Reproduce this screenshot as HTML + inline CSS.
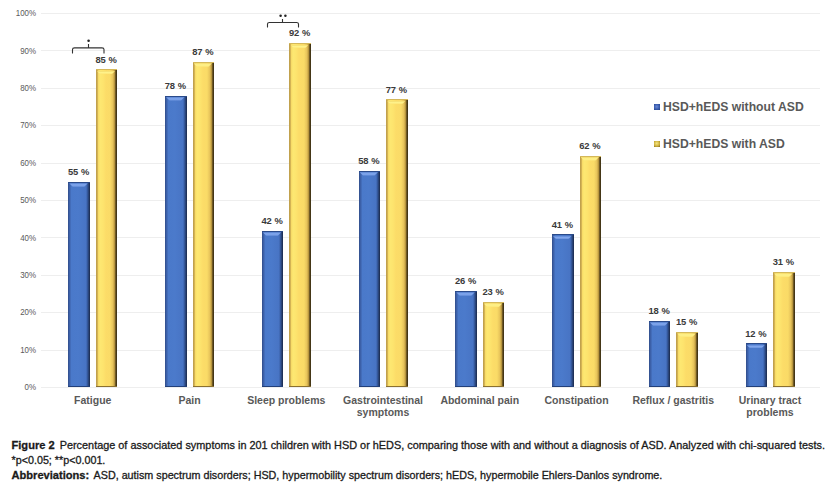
<!DOCTYPE html>
<html><head><meta charset="utf-8"><style>
*{margin:0;padding:0;box-sizing:border-box}
html,body{width:839px;height:492px;overflow:hidden;background:#fff}
body{position:relative;font-family:"Liberation Sans",sans-serif}
.gl{position:absolute;left:41px;width:779px;height:1px;background:#eeeeee}
.yl{position:absolute;left:0;width:36px;text-align:right;font-size:8.8px;line-height:10px;color:#5a5a5a;transform:scaleX(0.9);transform-origin:36px 0}
.bar{position:absolute;overflow:hidden}
.bar i{position:absolute;left:1px;right:2px;top:0.5px;height:3.5px;clip-path:polygon(0 0,100% 0,calc(100% - 3.5px) 100%,3.5px 100%)}
.bar.b{background:linear-gradient(to right,#304c88 0,#3c60a8 1.5px,#4a79ca 3.5px,#4b7acb 45%,#4874c4 calc(100% - 4px),#34579a calc(100% - 2.5px),#1a2848 100%);border-top:1px solid #2a4a8a;border-bottom:1px solid #22407a}
.bar.b i{background:linear-gradient(#5a84d2,#82a8ee 45%,#6a92dc)}
.bar.y{background:linear-gradient(to right,#b8984a 0,#d4b454 1.5px,#f8dc68 2.5px,#fde872 4px,#fde46e 7px,#fcdc68 10px,#fadb67 calc(100% - 7px),#e6c25a calc(100% - 4px),#b8963e calc(100% - 2.5px),#4a3a18 calc(100% - 1px),#3e3214 100%);border-top:1px solid #d4b85a;border-bottom:1px solid #8a7030}
.bar.y i{background:linear-gradient(#f2d868,#fff38c 45%,#fde676)}
.dl{position:absolute;width:40px;text-align:center;font-size:9.4px;font-weight:bold;line-height:10px;color:#3a3a3a}
.cl{position:absolute;top:393.9px;width:100px;text-align:center;font-size:10.5px;font-weight:bold;line-height:12px;color:#595959}
.lg{position:absolute;left:663px;font-size:12.2px;font-weight:bold;line-height:14px;color:#595959;white-space:nowrap}
.sq{position:absolute;left:654px;width:6px;height:6px}
.cap{position:absolute;left:11.5px;font-size:10.88px;line-height:14px;color:#1a1a1a;white-space:nowrap;-webkit-text-stroke:0.3px #1a1a1a}
.cap b{font-size:11.1px;margin-right:2px}
.ov{position:absolute;left:0;top:0}
</style></head><body>
<div class="gl" style="top:387.00px"></div>
<div class="yl" style="top:382.15px">0%</div>
<div class="gl" style="top:349.60px"></div>
<div class="yl" style="top:344.75px">10%</div>
<div class="gl" style="top:312.20px"></div>
<div class="yl" style="top:307.35px">20%</div>
<div class="gl" style="top:274.80px"></div>
<div class="yl" style="top:269.95px">30%</div>
<div class="gl" style="top:237.40px"></div>
<div class="yl" style="top:232.55px">40%</div>
<div class="gl" style="top:200.00px"></div>
<div class="yl" style="top:195.15px">50%</div>
<div class="gl" style="top:162.60px"></div>
<div class="yl" style="top:157.75px">60%</div>
<div class="gl" style="top:125.20px"></div>
<div class="yl" style="top:120.35px">70%</div>
<div class="gl" style="top:87.80px"></div>
<div class="yl" style="top:82.95px">80%</div>
<div class="gl" style="top:50.40px"></div>
<div class="yl" style="top:45.55px">90%</div>
<div class="gl" style="top:13.00px"></div>
<div class="yl" style="top:8.15px">100%</div>
<div class="bar b" style="left:68.25px;top:181.85px;width:21.5px;height:205.15px"><i></i></div>
<div class="dl" style="left:58.60px;top:167.25px">55 %</div>
<div class="bar y" style="left:95.75px;top:69.27px;width:21.5px;height:317.73px"><i></i></div>
<div class="dl" style="left:86.10px;top:54.67px">85 %</div>
<div class="cl" style="left:42.75px">Fatigue</div>
<div class="bar b" style="left:165.00px;top:95.54px;width:21.5px;height:291.46px"><i></i></div>
<div class="dl" style="left:155.35px;top:80.94px">78 %</div>
<div class="bar y" style="left:192.50px;top:61.76px;width:21.5px;height:325.24px"><i></i></div>
<div class="dl" style="left:182.85px;top:47.16px">87 %</div>
<div class="cl" style="left:139.50px">Pain</div>
<div class="bar b" style="left:261.75px;top:230.63px;width:21.5px;height:156.37px"><i></i></div>
<div class="dl" style="left:252.10px;top:216.03px">42 %</div>
<div class="bar y" style="left:289.25px;top:43.00px;width:21.5px;height:344.00px"><i></i></div>
<div class="dl" style="left:279.60px;top:28.40px">92 %</div>
<div class="cl" style="left:236.25px">Sleep problems</div>
<div class="bar b" style="left:358.50px;top:170.59px;width:21.5px;height:216.41px"><i></i></div>
<div class="dl" style="left:348.85px;top:155.99px">58 %</div>
<div class="bar y" style="left:386.00px;top:99.29px;width:21.5px;height:287.71px"><i></i></div>
<div class="dl" style="left:376.35px;top:84.69px">77 %</div>
<div class="cl" style="left:333.00px">Gastrointestinal<br>symptoms</div>
<div class="bar b" style="left:455.25px;top:290.67px;width:21.5px;height:96.33px"><i></i></div>
<div class="dl" style="left:445.60px;top:276.07px">26 %</div>
<div class="bar y" style="left:482.75px;top:301.93px;width:21.5px;height:85.07px"><i></i></div>
<div class="dl" style="left:473.10px;top:287.33px">23 %</div>
<div class="cl" style="left:429.75px">Abdominal pain</div>
<div class="bar b" style="left:552.00px;top:234.38px;width:21.5px;height:152.62px"><i></i></div>
<div class="dl" style="left:542.35px;top:219.78px">41 %</div>
<div class="bar y" style="left:579.50px;top:155.58px;width:21.5px;height:231.42px"><i></i></div>
<div class="dl" style="left:569.85px;top:140.98px">62 %</div>
<div class="cl" style="left:526.50px">Constipation</div>
<div class="bar b" style="left:648.75px;top:320.69px;width:21.5px;height:66.31px"><i></i></div>
<div class="dl" style="left:639.10px;top:306.09px">18 %</div>
<div class="bar y" style="left:676.25px;top:331.95px;width:21.5px;height:55.05px"><i></i></div>
<div class="dl" style="left:666.60px;top:317.35px">15 %</div>
<div class="cl" style="left:623.25px">Reflux / gastritis</div>
<div class="bar b" style="left:745.50px;top:343.21px;width:21.5px;height:43.79px"><i></i></div>
<div class="dl" style="left:735.85px;top:328.61px">12 %</div>
<div class="bar y" style="left:773.00px;top:271.91px;width:21.5px;height:115.09px"><i></i></div>
<div class="dl" style="left:763.35px;top:257.31px">31 %</div>
<div class="cl" style="left:720.00px">Urinary tract<br>problems</div>
<svg class="ov" width="839" height="492" viewBox="0 0 839 492">
<g fill="none" stroke="#333" stroke-width="1.1">
<path d="M72.5 53.5 V49.5 Q72.5 47.9 74.5 47.9 H102 Q104 47.9 104 49.5 V53.5 M88.5 47.9 V44"/>
<path d="M267.5 27.5 V24 Q267.5 22.5 269.5 22.5 H296.5 Q298.5 22.5 298.5 24 V27.5 M282.5 22.5 V19"/>
</g>
<g fill="#222">
<circle cx="88.6" cy="40.8" r="1.3"/>
<circle cx="280.6" cy="15.8" r="1.25"/>
<circle cx="285.4" cy="15.8" r="1.25"/>
</g>
</svg>
<div class="sq" style="top:104px;background:radial-gradient(circle at 45% 45%,#6a8ad6 0,#3a5cae 55%,#223f80 100%)"></div>
<div class="lg" style="top:99.5px">HSD+hEDS without ASD</div>
<div class="sq" style="top:141px;background:radial-gradient(circle at 45% 40%,#f5e682 0,#cfb23e 55%,#7a6422 100%)"></div>
<div class="lg" style="top:137.3px">HSD+hEDS with ASD</div>
<div class="cap" style="top:437.9px"><b>Figure 2</b> Percentage of associated symptoms in 201 children with HSD or hEDS, comparing those with and without a diagnosis of ASD. Analyzed with chi-squared tests.</div>
<div class="cap" style="top:453.4px;font-size:10.75px">*p&lt;0.05; **p&lt;0.001.</div>
<div class="cap" style="top:468.1px;font-size:10.75px"><b>Abbreviations:</b> ASD, autism spectrum disorders; HSD, hypermobility spectrum disorders; hEDS, hypermobile Ehlers-Danlos syndrome.</div>
</body></html>
